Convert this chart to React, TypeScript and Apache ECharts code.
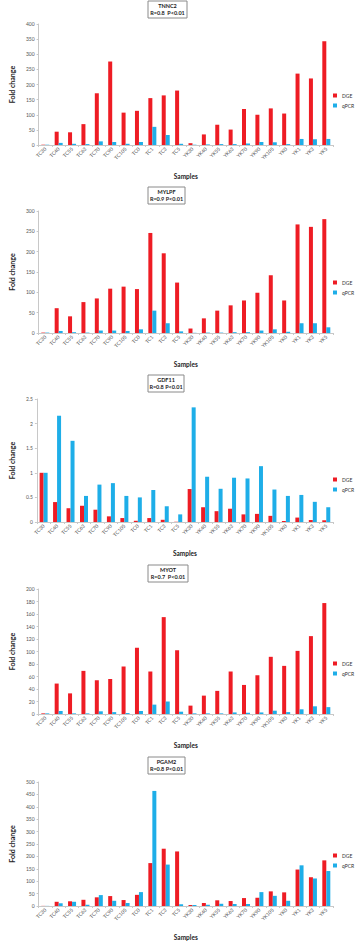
import React, { useEffect, useRef } from "react";
import * as echarts from "echarts";

const samples = ["TC30", "TC40", "TC55", "TC63", "TC70", "TC90", "TC105", "TC0", "TC1", "TC3", "TC5", "YK30", "YK40", "YK55", "YK63", "YK70", "YK90", "YK105", "YK0", "YK1", "YK3", "YK5"];

const genes = ["TNNC2", "MYLPF", "GDF11", "MYOT", "PGAM2"];
const stats = ["R=0.8  P<0.01", "R=0.9 P<0.01", "R=0.8 P<0.01", "R=0.7  P<0.01", "R=0.8 P<0.01"];

const tnnc2DGE = [1, 44, 42, 69, 171, 276, 107, 113, 155, 164, 180, 6, 35, 67, 51, 119, 100, 121, 104, 236, 220, 343];
const tnnc2QPCR = [1, 7, 4, 3, 12, 10, 4, 10, 60, 33, 4, 1, 2, 3, 3, 5, 10, 9, 3, 20, 19, 20];

const mylpfDGE = [1, 61, 41, 76, 85, 109, 114, 108, 246, 196, 124, 11, 36, 55, 68, 80, 99, 142, 80, 267, 261, 280];
const mylpfQPCR = [1, 5, 2, 1, 6, 6, 5, 9, 55, 24, 4, 0.5, 1, 1, 2, 2, 6, 9, 3, 24, 24, 14];

const gdf11DGE = [1.0, 0.405, 0.28, 0.33, 0.25, 0.115, 0.08, 0.025, 0.08, 0.045, 0.005, 0.67, 0.3, 0.22, 0.27, 0.155, 0.165, 0.125, 0.02, 0.09, 0.04, 0.035];
const gdf11QPCR = [1.0, 2.16, 1.65, 0.53, 0.76, 0.79, 0.53, 0.5, 0.65, 0.32, 0.155, 2.33, 0.92, 0.675, 0.9, 0.885, 1.135, 0.66, 0.53, 0.55, 0.41, 0.3];

const myotDGE = [1, 48.7, 33, 69, 54, 56, 76, 106, 68, 155, 102, 13.4, 29.4, 37, 68, 46.5, 62, 91.5, 77, 101, 124.6, 177.5];
const myotQPCR = [1, 4.8, 1, 1, 4.3, 3, 1.5, 4.8, 15, 20, 3.7, 1, 1, 1, 2.5, 2, 2.5, 5.3, 3, 7.5, 12.3, 11];

const pgam2DGE = [0.5, 17, 19, 25, 35, 40, 24, 45, 173, 231, 220, 4, 12, 23, 20, 32, 33, 59, 55, 147, 116, 184];
const pgam2QPCR = [0.5, 11, 17, 5, 44, 21, 12, 56, 464, 167, 7, 4, 5, 9, 8, 8, 56, 41, 21, 164, 111, 141];

const dgeSets = [tnnc2DGE, mylpfDGE, gdf11DGE, myotDGE, pgam2DGE];
const qpcrSets = [tnnc2QPCR, mylpfQPCR, gdf11QPCR, myotQPCR, pgam2QPCR];
const yMax = [400, 300, 2.5, 200, 500];
const yStep = [50, 50, 0.5, 20, 50];

const RED = "#ee1c24";
const BLUE = "#1eaee8";
const FONT = "Lato";

// layout (pixels)
const gridTops = [24, 211, 399, 589, 782];
const gridBottoms = [145, 333, 522, 714, 907];
const boxTops = [1, 187, 375, 565, 757];
const boxWidths = [39, 37, 36, 40, 37];
const legendTops = [93, 280, 477, 661, 853];

export default function App() {
  const ref = useRef<HTMLDivElement>(null);
  useEffect(() => {
    if (!ref.current) return;
    const chart = echarts.init(ref.current, null, { renderer: "svg" });
    const grids: any[] = [];
    const xAxes: any[] = [];
    const yAxes: any[] = [];
    const series: any[] = [];
    const legends: any[] = [];
    const graphics: any[] = [];
    for (let i = 0; i < 5; i++) {
      grids.push({ left: 25, width: 308, top: gridTops[i], height: gridBottoms[i] - gridTops[i] });
      xAxes.push({
        type: "category",
        gridIndex: i,
        data: samples,
        name: "Samples",
        nameLocation: "middle",
        nameGap: 28,
        nameTextStyle: { fontFamily: FONT, fontSize: 6.5, fontWeight: "bold", color: "#222" },
        axisLine: { lineStyle: { color: "#c8c8c8" } },
        axisTick: { show: true, length: 2, lineStyle: { color: "#c8c8c8" } },
        axisLabel: { interval: 0, rotate: 45, fontSize: 5, fontFamily: FONT, color: "#555", margin: 3 },
      });
      yAxes.push({
        type: "value",
        gridIndex: i,
        min: 0,
        max: yMax[i],
        interval: yStep[i],
        name: "Fold change",
        nameLocation: "middle",
        nameGap: 18,
        nameTextStyle: { fontFamily: FONT, fontSize: 7, fontWeight: "bold", color: "#222" },
        axisLine: { show: true, lineStyle: { color: "#c8c8c8" } },
        axisTick: { show: true, length: 2, lineStyle: { color: "#c8c8c8" } },
        splitLine: { show: false },
        axisLabel: { fontSize: 5, fontFamily: FONT, color: "#555", margin: 4 },
      });
      series.push({
        type: "bar",
        name: "DGE",
        xAxisIndex: i,
        yAxisIndex: i,
        data: dgeSets[i],
        barWidth: 4,
        barGap: "0%",
        itemStyle: { color: RED },
      });
      series.push({
        type: "bar",
        name: "qPCR",
        xAxisIndex: i,
        yAxisIndex: i,
        data: qpcrSets[i],
        barWidth: 4,
        barGap: "0%",
        itemStyle: { color: BLUE },
      });
      legends.push({
        data: ["DGE", "qPCR"],
        orient: "vertical",
        left: 333,
        top: legendTops[i],
        padding: 0,
        itemWidth: 4,
        itemHeight: 4,
        itemGap: 5,
        icon: "rect",
        selectedMode: false,
        textStyle: { fontSize: 5, fontFamily: FONT, color: "#333" },
      });
      const bx = 148;
      const bw = boxWidths[i];
      graphics.push({
        type: "group",
        children: [
          {
            type: "rect",
            shape: { x: bx, y: boxTops[i], width: bw, height: 17 },
            style: { fill: "#fff", stroke: "#8a8a8a", lineWidth: 1 },
          },
          {
            type: "text",
            x: bx + bw / 2,
            y: boxTops[i] + 4.5,
            style: { text: genes[i], fontSize: 5.5, fontWeight: "bold", fontFamily: FONT, fill: "#222", align: "center", verticalAlign: "middle" },
          },
          {
            type: "text",
            x: bx + bw / 2,
            y: boxTops[i] + 12,
            style: { text: stats[i], fontSize: 5.5, fontWeight: "bold", fontFamily: FONT, fill: "#222", align: "center", verticalAlign: "middle" },
          },
        ],
      });
    }
    chart.setOption({
      animation: false,
      backgroundColor: "#fff",
      grid: grids,
      xAxis: xAxes,
      yAxis: yAxes,
      series,
      legend: legends,
      graphic: graphics,
    });
    return () => chart.dispose();
  }, []);
  return <div ref={ref} style={{ position: "absolute", left: 0, top: 0, width: 358, height: 942 }} />;
}
